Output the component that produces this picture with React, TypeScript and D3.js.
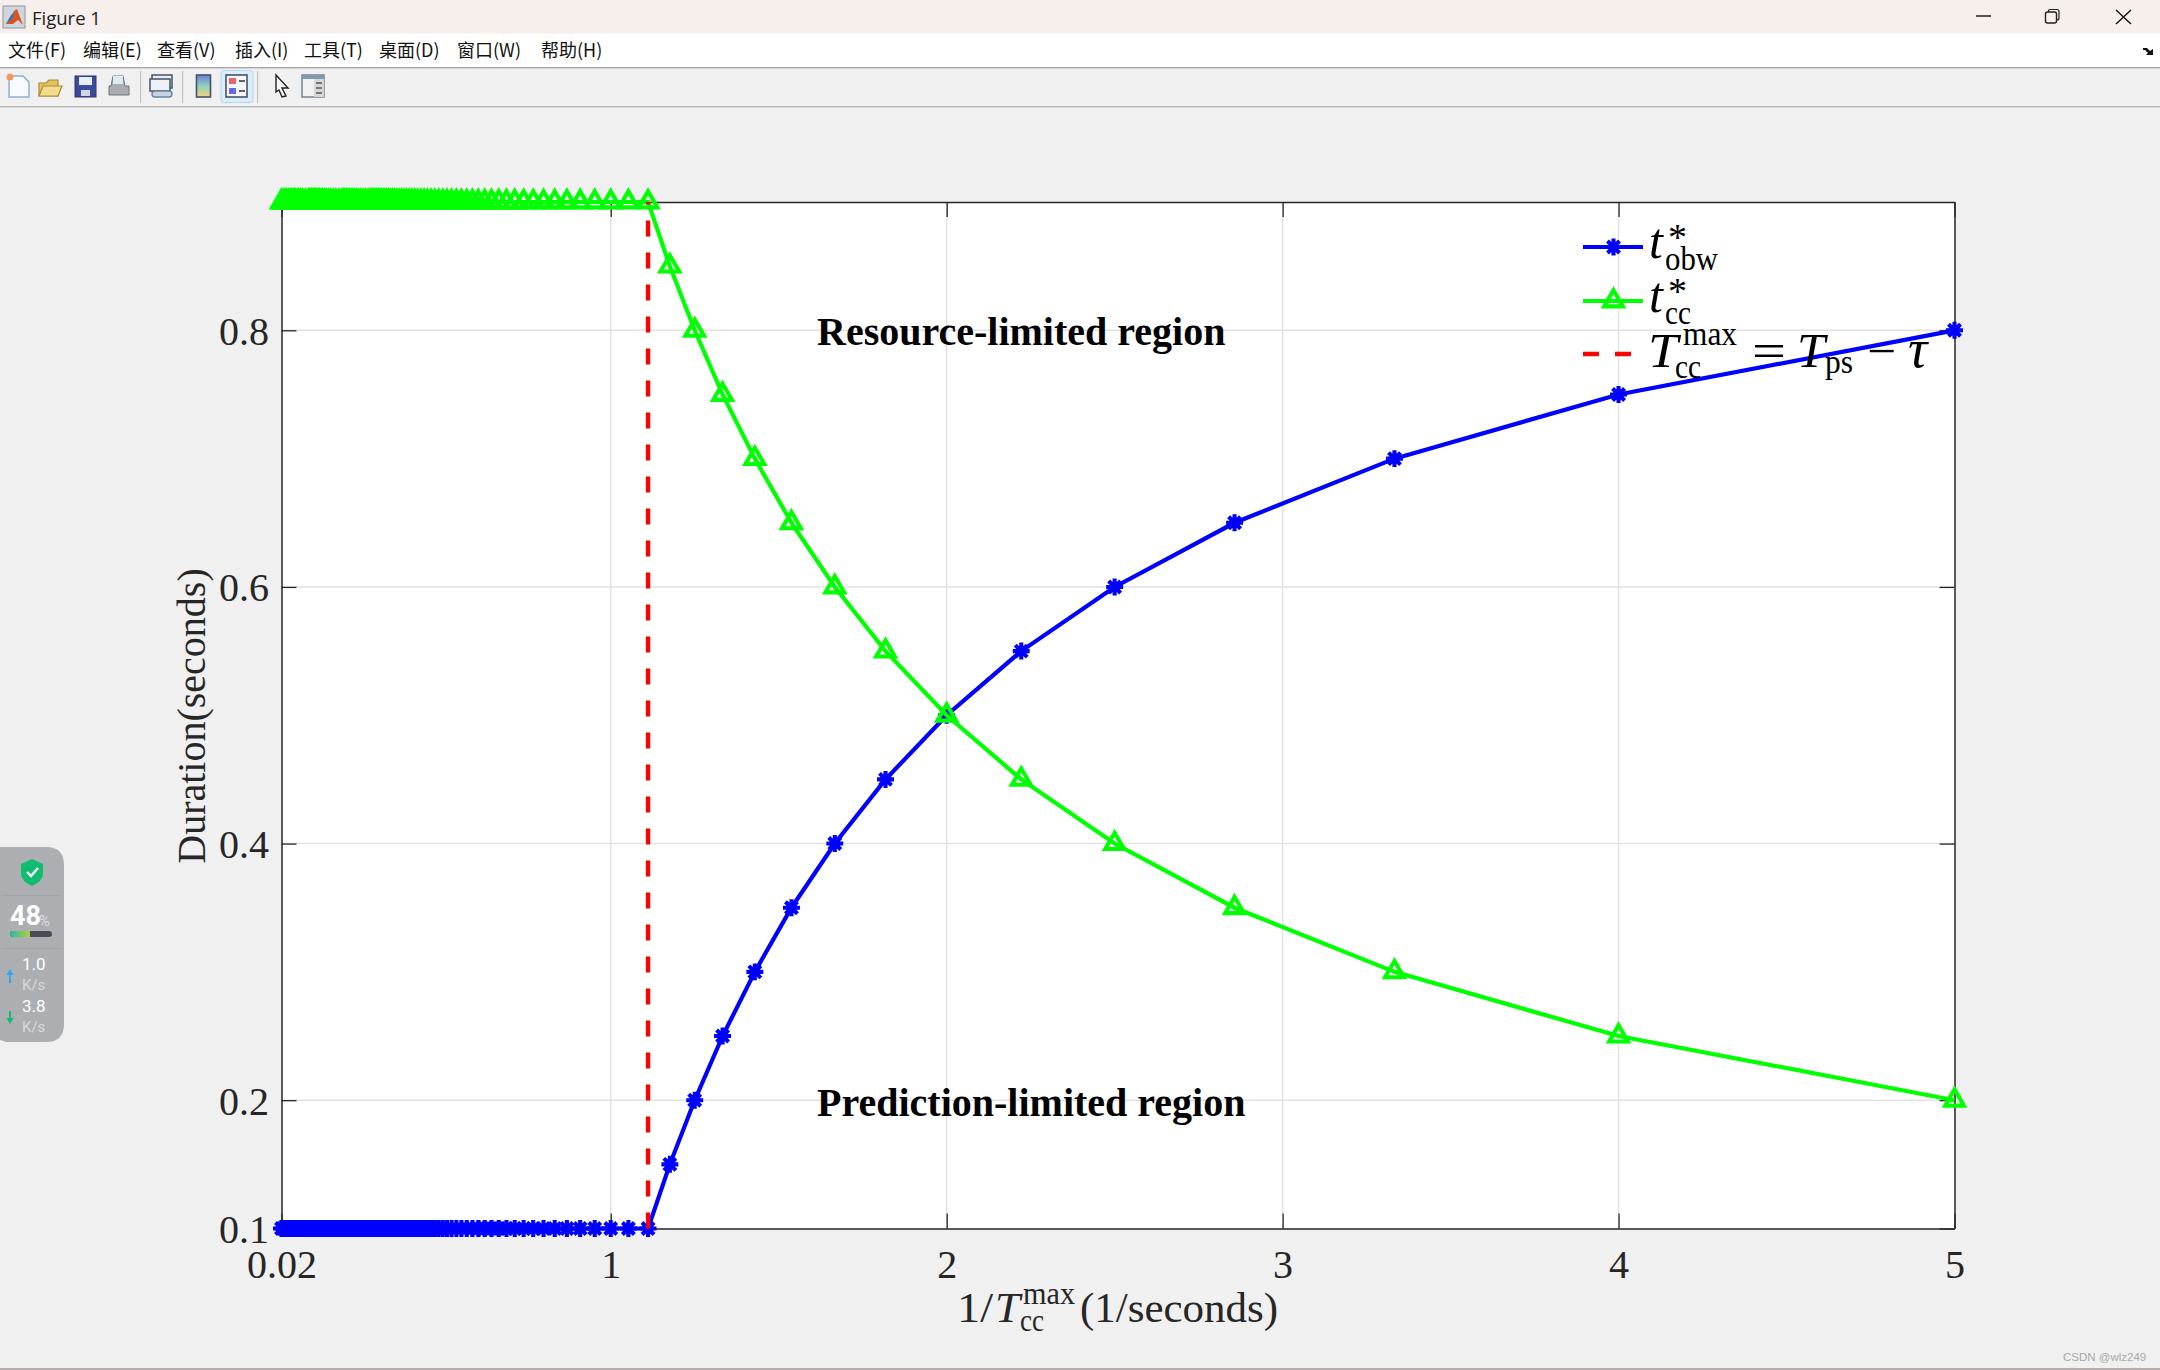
import React, { useEffect, useRef } from 'react';
import * as d3 from 'd3';

const tmaxSaturated = [
  0.9, 0.95, 1, 1.05, 1.1, 1.15, 1.2, 1.25, 1.3, 1.35, 1.4, 1.45, 1.5, 1.55, 1.6, 1.65, 1.7, 1.75, 1.8, 1.85,
  1.9, 1.95, 2, 2.05, 2.1, 2.15, 2.2, 2.25, 2.3, 2.35, 2.4, 2.45, 2.5, 2.55, 2.6, 2.65, 2.7, 2.75, 2.8, 2.85,
  2.9, 2.95, 3, 3.05, 3.1, 3.15, 3.2, 3.25, 3.3, 3.35, 3.4, 3.45, 3.5, 3.6, 3.7, 3.8, 3.9, 4, 4.1, 4.2, 4.3,
  4.4, 4.5, 4.6, 4.7, 4.8, 4.9, 5, 5.25, 5.5, 5.75, 6, 6.25, 6.5, 6.75, 7, 7.25, 7.5, 7.75, 8, 8.25, 8.5, 8.75,
  9, 9.25, 9.5, 9.75, 10, 11, 12, 13, 14, 15, 16, 17, 18, 20, 22, 25, 28, 33, 40, 50,
];
const xSloped = [1.176, 1.25, 1.333, 1.429, 1.538, 1.667, 1.818, 2, 2.222, 2.5, 2.857, 3.333, 4, 5];
const obwSloped = [0.15, 0.2, 0.25, 0.3, 0.35, 0.4, 0.45, 0.5, 0.55, 0.6, 0.65, 0.7, 0.75, 0.8];
const ccSloped = [0.85, 0.8, 0.75, 0.7, 0.65, 0.6, 0.55, 0.5, 0.45, 0.4, 0.35, 0.3, 0.25, 0.2];
const obwFloor = 0.1;
const ccCeil = 0.9;

const xTicks = [0.02, 1, 2, 3, 4, 5];
const xTickLabels = ['0.02', '1', '2', '3', '4', '5'];
const yTicks = [0.1, 0.2, 0.4, 0.6, 0.8];
const yTickLabels = ['0.1', '0.2', '0.4', '0.6', '0.8'];

const menuItems = ['文件(F)', '编辑(E)', '查看(V)', '插入(I)', '工具(T)', '桌面(D)', '窗口(W)', '帮助(H)'];
const menuX = [8, 83, 157, 235, 304, 379, 457, 541];

const SERIF = '"Liberation Serif", serif';
const INK = '#262626';
const BLUE = '#0000ff';
const GREEN = '#00ff00';
const RED = '#ff0000';

const left = 281.5;
const right = 1954.5;
const top = 202;
const bottom = 1228.5;

// matlab's * marker is denser than d3's 3-bar asterisk
const starSymbol = {
  draw(context: any, size: number) {
    const r = Math.sqrt(size);
    for (let i = 0; i < 4; i++) {
      const a = (i * Math.PI) / 4;
      context.moveTo(-r * Math.cos(a), -r * Math.sin(a));
      context.lineTo(r * Math.cos(a), r * Math.sin(a));
    }
  },
};

const Chart: React.FC = () => {
  const ref = useRef<SVGGElement>(null);

  useEffect(() => {
    if (!ref.current) return;
    const g = d3.select(ref.current);
    g.selectAll('*').remove();

    const x = d3.scaleLinear().domain([0.02, 5]).range([left, right]);
    const y = d3.scaleLinear().domain([0.1, 0.9]).range([bottom, top]);

    g.append('rect')
      .attr('x', left)
      .attr('y', top)
      .attr('width', right - left)
      .attr('height', bottom - top)
      .attr('fill', '#ffffff');

    // grid
    g.append('g')
      .selectAll('line')
      .data(xTicks.slice(1, -1))
      .enter()
      .append('line')
      .attr('x1', (d) => x(d))
      .attr('x2', (d) => x(d))
      .attr('y1', top)
      .attr('y2', bottom)
      .attr('stroke', '#e2e2e2')
      .attr('stroke-width', 1.4);
    g.append('g')
      .selectAll('line')
      .data(yTicks.slice(1))
      .enter()
      .append('line')
      .attr('x1', left)
      .attr('x2', right)
      .attr('y1', (d) => y(d))
      .attr('y2', (d) => y(d))
      .attr('stroke', '#e2e2e2')
      .attr('stroke-width', 1.4);

    // axes, ticks point inwards on all four sides
    const styleAxis = (sel: any) => {
      sel.select('.domain').attr('stroke', INK).attr('stroke-width', 1.5);
      sel.selectAll('.tick line').attr('stroke', INK).attr('stroke-width', 1.3);
      sel.selectAll('text').attr('fill', INK).style('font-family', SERIF).style('font-size', '40px');
    };

    const xBottom = g
      .append('g')
      .attr('transform', `translate(0,${bottom})`)
      .call(
        d3
          .axisBottom(x)
          .tickValues(xTicks)
          .tickFormat((_, i) => xTickLabels[i])
          .tickSizeInner(-15)
          .tickSizeOuter(0),
      );
    styleAxis(xBottom);
    xBottom.selectAll('text').attr('y', 49.5).attr('dy', 0);

    const xTop = g
      .append('g')
      .attr('transform', `translate(0,${top})`)
      .call(d3.axisTop(x).tickValues(xTicks).tickFormat(() => '').tickSizeInner(-15).tickSizeOuter(0));
    styleAxis(xTop);

    const yLeft = g
      .append('g')
      .attr('transform', `translate(${left},0)`)
      .call(
        d3
          .axisLeft(y)
          .tickValues(yTicks)
          .tickFormat((_, i) => yTickLabels[i])
          .tickSizeInner(-15)
          .tickSizeOuter(0),
      );
    styleAxis(yLeft);
    yLeft.selectAll('text').attr('x', -12.5).attr('dy', 14);

    const yRight = g
      .append('g')
      .attr('transform', `translate(${right},0)`)
      .call(d3.axisRight(y).tickValues(yTicks).tickFormat(() => '').tickSizeInner(-15).tickSizeOuter(0));
    styleAxis(yRight);

    // series
    const flatX = tmaxSaturated.map((t) => 1 / t);
    const obwData: [number, number][] = [
      ...flatX.map((v) => [v, obwFloor] as [number, number]),
      ...xSloped.map((v, i) => [v, obwSloped[i]] as [number, number]),
    ].sort((a, b) => a[0] - b[0]);
    const ccData: [number, number][] = [
      ...flatX.map((v) => [v, ccCeil] as [number, number]),
      ...xSloped.map((v, i) => [v, ccSloped[i]] as [number, number]),
    ].sort((a, b) => a[0] - b[0]);

    const line = d3
      .line<[number, number]>()
      .x((d) => x(d[0]))
      .y((d) => y(d[1]));

    const star = d3.symbol().type(starSymbol as any).size(72)();
    const tri = d3.symbol().type(d3.symbolTriangle).size(152)();

    g.append('path').attr('d', line(obwData)).attr('fill', 'none').attr('stroke', BLUE).attr('stroke-width', 4.2);
    g.append('g')
      .selectAll('path')
      .data(obwData)
      .enter()
      .append('path')
      .attr('transform', (d) => `translate(${x(d[0])},${y(d[1])})`)
      .attr('d', star)
      .attr('fill', 'none')
      .attr('stroke', BLUE)
      .attr('stroke-width', 4.1);

    g.append('path').attr('d', line(ccData)).attr('fill', 'none').attr('stroke', GREEN).attr('stroke-width', 4.2);
    g.append('g')
      .selectAll('path')
      .data(ccData)
      .enter()
      .append('path')
      .attr('transform', (d) => `translate(${x(d[0])},${y(d[1])})`)
      .attr('d', tri)
      .attr('fill', 'none')
      .attr('stroke', GREEN)
      .attr('stroke-width', 4.1);

    // dashed line runs bottom to top
    g.append('line')
      .attr('x1', x(1 / tmaxSaturated[0]))
      .attr('x2', x(1 / tmaxSaturated[0]))
      .attr('y1', y(obwFloor))
      .attr('y2', y(ccCeil))
      .attr('stroke', RED)
      .attr('stroke-width', 4.4)
      .attr('stroke-dasharray', '16 16');

    // legend samples
    g.append('line').attr('x1', 1583).attr('x2', 1643).attr('y1', 247).attr('y2', 247).attr('stroke', BLUE).attr('stroke-width', 4.2);
    g.append('path').attr('transform', 'translate(1613.5,247)').attr('d', star).attr('fill', 'none').attr('stroke', BLUE).attr('stroke-width', 4.1);
    g.append('line').attr('x1', 1583).attr('x2', 1643).attr('y1', 301).attr('y2', 301).attr('stroke', GREEN).attr('stroke-width', 4.2);
    g.append('path').attr('transform', 'translate(1613.5,301)').attr('d', tri).attr('fill', 'none').attr('stroke', GREEN).attr('stroke-width', 4.1);
    g.append('line').attr('x1', 1583).attr('x2', 1643).attr('y1', 354).attr('y2', 354).attr('stroke', RED).attr('stroke-width', 4.4).attr('stroke-dasharray', '16 16');
  }, []);

  return <g ref={ref}></g>;
};

const T: React.FC<any> = ({ x, y, size, italic, bold, fill, anchor, len, family, children }) => (
  <text
    x={x}
    y={y}
    fontSize={size}
    fontStyle={italic ? 'italic' : 'normal'}
    fontWeight={bold ? 'bold' : 'normal'}
    fill={fill || '#000'}
    textAnchor={anchor || 'start'}
    textLength={len}
    lengthAdjust={len ? 'spacingAndGlyphs' : undefined}
    fontFamily={family || SERIF}
  >
    {children}
  </text>
);

const WindowChrome: React.FC = () => (
  <g>
    <rect x={0} y={0} width={2160} height={33.5} fill="#f7efec" />
    <rect x={0} y={33.5} width={2160} height={33.5} fill="#ffffff" />
    <rect x={0} y={67} width={2160} height={1.4} fill="#a8a8a8" />
    <rect x={0} y={106} width={2160} height={1.4} fill="#b4b4b4" />

    <rect x={3} y={6} width={22} height={22} fill="#cfd6de" stroke="#8c96a3" />
    <path d="M6 24 L14 11 L17 9 L23 25 L18 20 L13 24 Z" fill="#d9541e" />
    <path d="M6 24 L12 19 L15 13 L11 15 Z" fill="#3a78b5" />
    <T x={32} y={24.5} size={18.5} family='"Open Sans", sans-serif' fill="#222">Figure 1</T>

    {menuItems.map((m, i) => (
      <T key={m} x={menuX[i]} y={57} size={18} family='"Noto Sans CJK SC", sans-serif' fill="#111">{m}</T>
    ))}

    <line x1={1976} x2={1991} y1={16} y2={16} stroke="#111" strokeWidth={1.4} />
    <rect x={2045.5} y={12} width={11} height={11} rx={2} fill="none" stroke="#222" strokeWidth={1.4} />
    <path d="M2048.5 12 V10.5 Q2048.5 9.5 2050 9.5 H2057 Q2059 9.5 2059 11.5 V18 Q2059 20 2057 20" fill="none" stroke="#222" strokeWidth={1.2} />
    <path d="M2116 10 L2131 24 M2131 10 L2116 24" stroke="#111" strokeWidth={1.4} />
    <path d="M2143 48 H2147 L2150 51 L2153 49 V55 H2146 L2148 53 L2145 50 H2143 Z" fill="#111" />

    {/* toolbar */}
    <path d="M9 76 H23 L29 82 V97 H9 Z" fill="#f7fbff" stroke="#8fb0cc" strokeWidth={1.5} />
    <circle cx={10} cy={77} r={3.5} fill="#ee9a5c" />
    <path d="M39 83 H46 L49 80 H58 V96 H39 Z" fill="#e6c35c" stroke="#a98a34" strokeWidth={1.2} />
    <path d="M43 86 H62 L58 96 H39 Z" fill="#f3dc8e" stroke="#a98a34" strokeWidth={1.2} />
    <rect x={75} y={76} width={21} height={21} fill="#3b4a9a" stroke="#2c3570" />
    <rect x={79} y={77} width={13} height={8} fill="#e8ecf6" />
    <rect x={81} y={90} width={9} height={6} fill="#d3d6e2" />
    <path d="M113 76 H123 L125 86 H129 V95 H109 V86 H111 Z" fill="#a9adb0" stroke="#6f7478" />
    <rect x={113} y={76} width={10} height={8} fill="#dceaf3" />
    <rect x={140} y={71} width={1.2} height={32} fill="#c4c4c4" />
    <rect x={152} y={75} width={20} height={13} fill="#e7edf3" stroke="#44536a" strokeWidth={1.5} />
    <rect x={150} y={79} width={20} height={12} fill="#eef2f6" stroke="#44536a" strokeWidth={1.5} />
    <rect x={152} y={91} width={20} height={6} rx={3} fill="#c6d4e2" stroke="#6d84a0" strokeWidth={1.5} />
    <rect x={182} y={71} width={1.2} height={32} fill="#c4c4c4" />
    <defs>
      <linearGradient id="cb" x1="0" y1="0" x2="0" y2="1">
        <stop offset="0" stopColor="#6d7fd6" />
        <stop offset="0.5" stopColor="#8fd0c0" />
        <stop offset="1" stopColor="#f2d27a" />
      </linearGradient>
      <linearGradient id="mem" x1="0" y1="0" x2="1" y2="0">
        <stop offset="0" stopColor="#27b9a8" />
        <stop offset="1" stopColor="#b4cf3a" />
      </linearGradient>
    </defs>
    <rect x={196.5} y={75} width={14} height={22} fill="url(#cb)" stroke="#44536a" strokeWidth={1.6} />
    <rect x={221} y={70.5} width={32} height={32} rx={3} fill="#dcecf9" stroke="#b5d6f2" />
    <rect x={226} y={75} width={21} height={22} fill="#f4f6f8" stroke="#44536a" strokeWidth={1.6} />
    <rect x={229} y={78} width={7} height={6} fill="#e4686a" />
    <rect x={229} y={88} width={7} height={6} fill="#6468e4" />
    <path d="M239 81 H245 M239 91 H245" stroke="#333" strokeWidth={1.5} />
    <rect x={257} y={71} width={1.2} height={32} fill="#c4c4c4" />
    <path d="M276 75 L288 88 H282 L286 96 L282 97 L279 90 L276 92 Z" fill="#f6f6f6" stroke="#222" strokeWidth={1.4} />
    <rect x={302} y={75} width={22} height={22} fill="#f2f2f2" stroke="#707a84" strokeWidth={1.4} />
    <rect x={302} y={75} width={22} height={4} fill="#7f9ab4" />
    <rect x={314} y={79} width={10} height={18} fill="#d4d6d8" />
    <path d="M316 83 H322 M316 88 H322 M316 93 H322" stroke="#555" strokeWidth={1.4} />

    <rect x={0} y={1368} width={2160} height={2} fill="#b5adaa" />
    <T x={2063} y={1361} size={11.5} family='"Liberation Sans", sans-serif' fill="#a9a9a9">CSDN @wlz249</T>
  </g>
);

const NetWidget: React.FC = () => (
  <g>
    <path d="M0 847 H46 Q64 847 64 865 V1024 Q64 1042 46 1042 H6 L0 1040 Z" fill="#adaeb2" />
    <path d="M32 859 L43 864 V874 Q43 881 32 886 Q21 881 21 874 V864 Z" fill="#10bd70" />
    <path d="M27 872 L31 876 L38 868" fill="none" stroke="#fff" strokeWidth={2.4} />
    <rect x={2} y={895} width={59} height={1} fill="#a2a5a8" />
    <rect x={2} y={948} width={59} height={1} fill="#a2a5a8" />
    <T x={10} y={925} size={27} bold family="Roboto, sans-serif" fill="#ffffff">48</T>
    <T x={39} y={926} size={15} family="Roboto, sans-serif" fill="#dcdcdc">%</T>
    <rect x={10} y={931} width={42} height={6} rx={3} fill="#4a4c55" />
    <path d="M13 931 H30 V937 H13 A3 3 0 0 1 13 931 Z" fill="url(#mem)" />
    <path d="M10 969 L13.5 975 H11 V983 H9 V975 H6.5 Z" fill="#29a8f2" />
    <T x={22} y={970} size={17} family="Roboto, sans-serif" fill="#ffffff">1.0</T>
    <T x={22} y={990} size={15} family="Roboto, sans-serif" fill="#d8d8d8">K/s</T>
    <path d="M10 1024 L13.5 1018 H11 V1011 H9 V1018 H6.5 Z" fill="#10bd70" />
    <T x={22} y={1012} size={17} family="Roboto, sans-serif" fill="#ffffff">3.8</T>
    <T x={22} y={1032} size={15} family="Roboto, sans-serif" fill="#d8d8d8">K/s</T>
  </g>
);

const App: React.FC = () => (
  <svg
    width={2160}
    height={1370}
    viewBox="0 0 2160 1370"
    style={{ position: 'fixed', left: 0, top: 0, display: 'block', background: '#f0f0f0' }}
  >
    <WindowChrome />
    <NetWidget />
    <Chart />

    <T x={817} y={345} size={40} bold>Resource-limited region</T>
    <T x={817} y={1116} size={40} bold>Prediction-limited region</T>

    <g transform="translate(205,716) rotate(-90)">
      <T x={0} y={0} size={40} anchor="middle" fill={INK}>Duration(seconds)</T>
    </g>

    {/* x label */}
    <T x={957} y={1322} size={42} fill={INK} len={36}>1/</T>
    <T x={995} y={1322} size={42} italic fill={INK} len={25}>T</T>
    <T x={1023} y={1304} size={31} fill={INK} len={52}>max</T>
    <T x={1020} y={1331} size={31} fill={INK} len={24}>cc</T>
    <T x={1080} y={1322} size={42} fill={INK} len={198}>(1/seconds)</T>

    {/* legend text */}
    <T x={1649} y={258} size={50} italic>t</T>
    <T x={1668} y={250} size={38}>*</T>
    <T x={1665} y={270} size={33} len={53}>obw</T>
    <T x={1649} y={312} size={50} italic>t</T>
    <T x={1668} y={304} size={38}>*</T>
    <T x={1665} y={324} size={33} len={26}>cc</T>
    <T x={1648} y={367} size={48} italic len={30}>T</T>
    <T x={1683} y={345} size={33} len={54}>max</T>
    <T x={1675} y={378} size={33} len={26}>cc</T>
    <T x={1752} y={367} size={48} len={34}>=</T>
    <T x={1797} y={367} size={48} italic len={28}>T</T>
    <T x={1825} y={373} size={33} len={28}>ps</T>
    <T x={1867} y={367} size={48} len={29}>−</T>
    <T x={1908} y={367} size={54} italic>τ</T>
  </svg>
);

export default App;
